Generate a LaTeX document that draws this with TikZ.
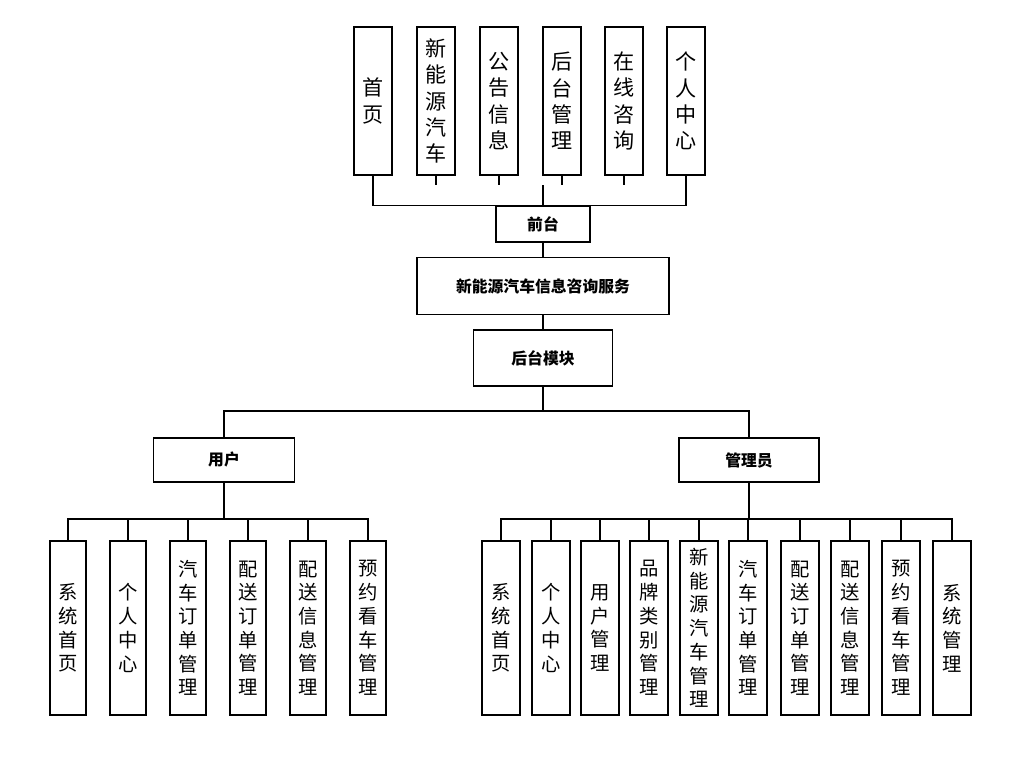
\documentclass[tikz,border=0pt]{standalone}
\usepackage{fontspec}
\setmainfont{Noto Sans CJK SC}
\begin{document}
\begin{tikzpicture}[x=0.02cm,y=-0.02cm,
  box/.style={draw,thick,inner sep=0pt,font=\fontsize{9}{11}\selectfont\bfseries},
  tall/.style={draw,thick,inner sep=0pt,minimum width=0.76cm,minimum height=2.96cm,align=center,font=\fontsize{12}{15}\selectfont},
  low/.style={draw,thick,inner sep=0pt,minimum height=3.48cm,align=center,font=\fontsize{11}{13.5}\selectfont},
  line/.style={thick}]
\useasboundingbox (0,0) rectangle (1017,758);
% top modules
\node[tall] (t1) at (373,101) {首\\页};
\node[tall] (t2) at (436,101) {新\\能\\源\\汽\\车};
\node[tall] (t3) at (499,101) {公\\告\\信\\息};
\node[tall] (t4) at (562,101) {后\\台\\管\\理};
\node[tall] (t5) at (624,101) {在\\线\\咨\\询};
\node[tall] (t6) at (686,101) {个\\人\\中\\心};
% centre column
\node[box,minimum width=1.88cm,minimum height=0.72cm] (front) at (543,224) {前台};
\node[box,minimum width=5.04cm,minimum height=1.14cm] (sys) at (543,286) {新能源汽车信息咨询服务};
\node[box,minimum width=2.78cm,minimum height=1.12cm] (back) at (543,358) {后台模块};
\node[box,minimum width=2.82cm,minimum height=0.88cm] (user) at (224,460) {用户};
\node[box,minimum width=2.8cm,minimum height=0.88cm] (admin) at (749,460) {管理员};
% user modules
\foreach \n/\x/\t in {u1/68/系\\统\\首\\页, u2/128/个\\人\\中\\心, u3/188/汽\\车\\订\\单\\管\\理,
  u4/248/配\\送\\订\\单\\管\\理, u5/308/配\\送\\信\\息\\管\\理, u6/368/预\\约\\看\\车\\管\\理}
  \node[low,minimum width=0.72cm] (\n) at (\x,628) {\t};
% admin modules
\foreach \n/\x/\t in {a1/501/系\\统\\首\\页, a2/551/个\\人\\中\\心, a3/600/用\\户\\管\\理,
  a4/649/品\\牌\\类\\别\\管\\理, a5/699/新\\能\\源\\汽\\车\\管\\理, a6/748/汽\\车\\订\\单\\管\\理,
  a7/800/配\\送\\订\\单\\管\\理, a8/850/配\\送\\信\\息\\管\\理, a9/901/预\\约\\看\\车\\管\\理, a10/952/系\\统\\管\\理}
  \node[low,minimum width=0.76cm] (\n) at (\x,628) {\t};
% connectors
\draw[line] (t1.south) |- (front.north -| t6.south) -- (t6.south);
\foreach \n in {t2,t3,t4,t5} \draw[line] (\n.south) -- (\n.south |- 0,185);
\draw[line] (543,185) -- (front.north);
\draw[line] (front) -- (sys);
\draw[line] (sys) -- (back);
\draw[line] (back.south) -- (543,411);
\draw[line] (user.north) |- (543,411) -| (admin.north);
\draw[line] (user.south) -- (224,519);
\draw[line] (u1.north) |- (u6.north |- 0,519) -- (u6.north);
\foreach \n in {u2,u3,u4,u5} \draw[line] (\n.north) -- (\n.north |- 0,519);
\draw[line] (admin.south) -- (749,519);
\draw[line] (a1.north) |- (a10.north |- 0,519) -- (a10.north);
\foreach \n in {a2,a3,a4,a5,a6,a7,a8,a9} \draw[line] (\n.north) -- (\n.north |- 0,519);
\end{tikzpicture}
\end{document}
